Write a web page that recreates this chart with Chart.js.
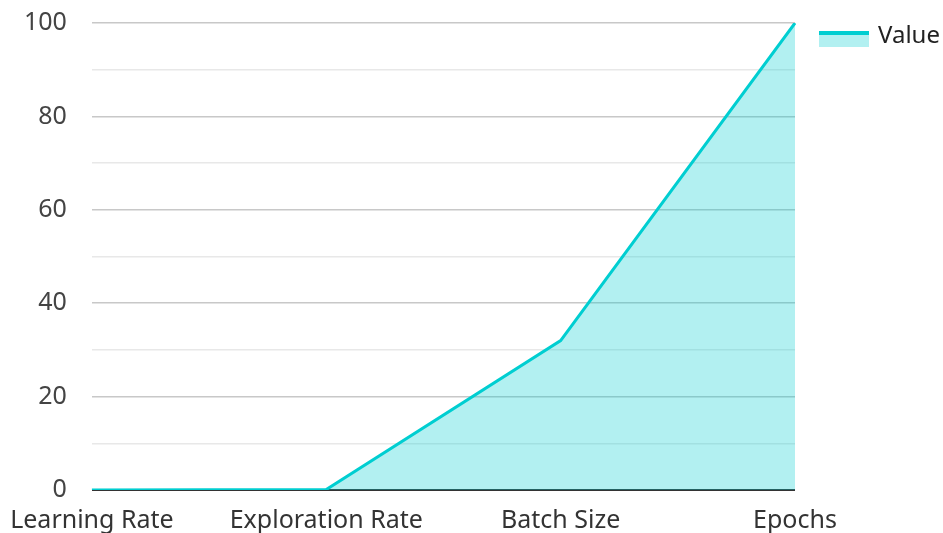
<!DOCTYPE html>
<html>
<head>
<meta charset="utf-8">
<script src="https://cdn.jsdelivr.net/npm/chart.js@4/dist/chart.umd.min.js"></script>
<style>
  html, body { margin: 0; padding: 0; background: #fff; }
  #wrap { width: 943px; height: 533px; }
</style>
</head>
<body>
<div id="wrap"><canvas id="c" width="943" height="533"></canvas></div>
<script>
const categories = ['Learning Rate', 'Exploration Rate', 'Batch Size', 'Epochs'];
const values = [0.001, 0.1, 32, 100];
const seriesName = 'Value';

const lineColor = 'rgb(0, 206, 209)';
const fillColor = 'rgba(0, 206, 209, 0.3)';
const FONT = '"Noto Sans", "Open Sans", sans-serif';

// Legend to the right of the plot: filled swatch topped by a line, then the series name
const sideLegend = {
  id: 'sideLegend',
  afterDraw(chart) {
    const { ctx, chartArea } = chart;
    const ds = chart.data.datasets[0];
    const x = chartArea.right + 24;
    const y = chartArea.top + 8;
    ctx.save();
    ctx.fillStyle = ds.backgroundColor;
    ctx.fillRect(x, y + 2, 50, 14);
    ctx.fillStyle = ds.borderColor;
    ctx.fillRect(x, y, 50, 4);
    ctx.fillStyle = '#222';
    ctx.font = '24px ' + FONT;
    ctx.textAlign = 'left';
    ctx.textBaseline = 'middle';
    ctx.fillText(ds.label, x + 59, y + 5);
    ctx.restore();
  }
};

new Chart(document.getElementById('c'), {
  type: 'line',
  data: {
    labels: categories,
    datasets: [{
      label: seriesName,
      data: values,
      borderColor: lineColor,
      backgroundColor: fillColor,
      borderWidth: 3,
      fill: 'origin',
      tension: 0,
      pointRadius: 0,
      pointHoverRadius: 0
    }]
  },
  plugins: [sideLegend],
  options: {
    responsive: false,
    animation: false,
    layout: { padding: { top: 23, right: 148, left: 21, bottom: -7 } },
    plugins: {
      tooltip: { enabled: false },
      legend: { display: false }
    },
    scales: {
      x: {
        offset: false,
        grid: { display: false, drawTicks: true, tickLength: 12 },
        border: { display: false },
        ticks: {
          color: '#333',
          font: { family: FONT, size: 25 },
          padding: 4,
          maxRotation: 0,
          autoSkip: false
        }
      },
      y: {
        min: 0,
        max: 100,
        border: { display: false },
        grid: {
          drawTicks: true,
          tickLength: 22,
          tickColor: 'rgba(0,0,0,0)',
          color: (ctx) => {
            const v = ctx.tick.value;
            if (v === 0) return '#333';
            return v % 20 === 0 ? '#c8c8c8' : '#e8e8e8';
          },
          lineWidth: (ctx) => ctx.tick.value === 0 ? 2 : 1.5
        },
        ticks: {
          stepSize: 10,
          color: '#444',
          font: { family: FONT, size: 25 },
          padding: 3,
          callback: (v) => v % 20 === 0 ? v : ''
        }
      }
    }
  }
});
</script>
</body>
</html>
